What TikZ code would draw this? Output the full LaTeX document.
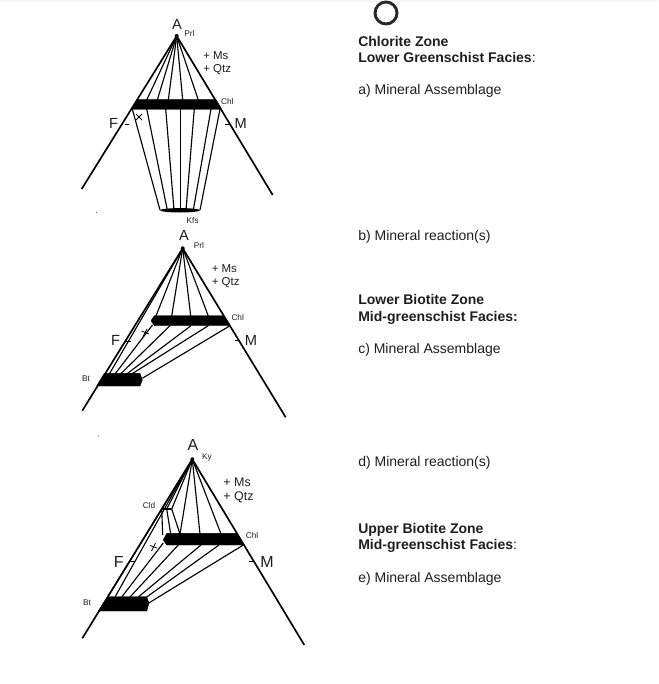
\documentclass[tikz,border=0pt]{standalone}
\usepackage{fontspec}
\setmainfont{Liberation Sans}
\definecolor{txtblack}{RGB}{30,30,30}
\definecolor{ringgrey}{RGB}{40,40,40}
\definecolor{stripgrey}{RGB}{246,246,246}
\tikzset{
  edgeline/.style={black, line width=1.25pt},
  tieline/.style={black, line width=0.85pt},
  tickline/.style={black, line width=0.6pt},
  band/.style={fill=black, draw=black, line width=0.3pt, line join=round},
  cornerlabel/.style={font=\fontsize{11}{12}\selectfont, text=txtblack, inner sep=0pt},
  cornerbig/.style={font=\fontsize{12}{13}\selectfont, text=txtblack, inner sep=0pt},
  addlabel/.style={font=\fontsize{8.6}{9}\selectfont, text=txtblack, inner sep=0pt, anchor=west},
  addbig/.style={font=\fontsize{9.4}{10}\selectfont, text=txtblack, inner sep=0pt, anchor=west},
  minlabel/.style={font=\fontsize{6.2}{7}\selectfont, text=txtblack, inner sep=0pt},
  zonetext/.style={font=\fontsize{10.5}{12}\selectfont, text=txtblack, inner sep=0pt, anchor=base west},
  zonehead/.style={zonetext, font=\fontsize{10.5}{12}\selectfont\bfseries},
}
\begin{document}
\begin{tikzpicture}[x=0.75pt,y=-0.75pt]
\useasboundingbox (0,0) rectangle (658,684);
\fill[stripgrey] (0,0) rectangle (658,2);

% Chlorite zone triangle
\coordinate (apexa) at (176.7,36);
\coordinate (lefta) at (81.7,189);
\coordinate (righta) at (272.7,195);
\fill[black] (apexa) circle (2);
\fill[band] (137.7,99.3) -- (215.7,99.3) -- (221.7,109.3) -- (131,109.3) -- cycle;
\fill[black] (180,210.3) ellipse (20 and 2.2);
\draw[edgeline] (lefta) -- (apexa) -- (righta);
\foreach \x in {146.7,157.3,168.3,182.7,198.3}
  \draw[tieline] (apexa) -- (\x,100);
\draw[tieline] (132.3,109) -- (160,210);
\draw[tieline] (146.7,109) -- (167.3,210);
\draw[tieline] (165.7,109) -- (174,210);
\draw[tieline] (180.5,109) -- (180.5,210);
\draw[tieline] (194.3,109) -- (186,210);
\draw[tieline] (211,109) -- (193.3,210);
\draw[tieline] (220,109) -- (200,210);
\node[cornerlabel] (topa) at (177,24) {A};
\node[minlabel] (prla) at (189.3,33.5) {Prl};
\node[addlabel] (msa) at (203,55.7) {+ Ms};
\node[addlabel] (qtza) at (203,69.3) {+ Qtz};
\node[minlabel] (chla) at (227.3,102) {Chl};
\node[cornerlabel] (fa) at (113.5,123) {F};
\node[cornerlabel] (ma) at (240.7,123) {M};
\node[minlabel] (kfsa) at (192.7,220.7) {Kfs};
\draw[tickline] (124.5,124.3) -- (128.5,124.3);
\draw[tickline] (225,124.3) -- (229.5,124.3);
\draw[tickline] (136,114) -- (142,120);
\draw[tickline] (136,120) -- (142,114);
\fill[black!70] (96.7,212.3) circle (0.6);

% Lower biotite zone triangle
\coordinate (apexb) at (182.7,248.3);
\coordinate (leftb) at (82.3,410.7);
\coordinate (rightb) at (285.7,417.3);
\fill[black] (apexb) circle (2);
\fill[band] (151,320.7) -- (154.3,315.7) -- (223.3,315.7) -- (230,325.7) -- (154.3,325.7) -- cycle;
\fill[band] (96.7,386) -- (104.3,373.3) -- (140,373.3) -- (142.3,380) -- (140,386) -- cycle;
\draw[edgeline] (leftb) -- (apexb) -- (rightb);
\draw[tieline] (apexb) -- (109.3,374);
\foreach \x in {156,171.7,190.7,208.3}
  \draw[tieline] (apexb) -- (\x,316);
\draw[tieline] (152.5,325) -- (115,374);
\draw[tieline] (170,325.7) -- (120.5,374);
\draw[tieline] (191,325.7) -- (126.7,374);
\draw[tieline] (208.3,325.7) -- (131.7,374);
\draw[tieline] (230,325.7) -- (142.3,378.3);
\node[cornerlabel] (topb) at (184,235) {A};
\node[minlabel] (prlb) at (199,245.7) {Prl};
\node[addlabel] (msb) at (211.5,268.3) {+ Ms};
\node[addlabel] (qtzb) at (211.5,282.7) {+ Qtz};
\node[minlabel] (chlb) at (237.7,317.3) {Chl};
\node[cornerlabel] (fb) at (115.7,340.7) {F};
\node[cornerlabel] (mb) at (251,340.7) {M};
\node[minlabel] (btb) at (86,378.3) {Bt};
\draw[tickline] (125,341) -- (130.7,341);
\draw[tickline] (235,340.7) -- (240,340.7);
\draw[tickline] (141.5,331) -- (149,334);
\draw[tickline] (143,336.5) -- (147,329);

% Upper biotite zone triangle
\coordinate (apexc) at (192.3,459.3);
\coordinate (leftc) at (82.3,638.3);
\coordinate (rightc) at (304.3,645);
\fill[black] (apexc) circle (2);
\fill[band] (163.3,540) -- (166.7,533.3) -- (236.7,533.3) -- (243.3,545) -- (166.7,545) -- cycle;
\fill[band] (98.3,611) -- (107.7,596.7) -- (146.7,596.7) -- (149,603.3) -- (146.7,611) -- cycle;
\draw[edgeline] (leftc) -- (apexc) -- (rightc);
\draw[tieline] (161.7,509) -- (171.7,509);
\draw[tieline] (apexc) -- (166.7,509);
\draw[tieline] (apexc) -- (171.7,509);
\draw[tieline] (161.7,509) -- (162.7,535);
\draw[tieline] (166.7,509) -- (170.7,534);
\draw[tieline] (171.7,509) -- (180,534);
\foreach \x in {180,200,221}
  \draw[tieline] (apexc) -- (\x,534);
\draw[tieline] (apexc) -- (107.7,597);
\draw[tieline] (apexc) -- (115,597);
\draw[tieline] (163.3,543) -- (121.7,597);
\draw[tieline] (178.3,545) -- (130,597);
\draw[tieline] (201,545) -- (138.3,597);
\draw[tieline] (219,545) -- (146.7,597);
\draw[tieline] (243.3,545) -- (148.3,603.3);
\node[cornerbig] (topc) at (193,445) {A};
\node[minlabel] (kyc) at (207,457.5) {Ky};
\node[addbig] (msc) at (223,482.3) {+ Ms};
\node[addbig] (qtzc) at (223,497) {+ Qtz};
\node[minlabel] (cldc) at (149,505.7) {Cld};
\node[minlabel] (chlc) at (252,535.7) {Chl};
\node[cornerbig] (fc) at (118.7,561.7) {F};
\node[cornerbig] (mc) at (267,561.7) {M};
\node[minlabel] (btc) at (87,603) {Bt};
\draw[tickline] (129.3,561.7) -- (135,561.7);
\draw[tickline] (249,561.7) -- (254,561.7);
\draw[tickline] (150,545.5) -- (157,548);
\draw[tickline] (151.5,551) -- (155.5,543);
\fill[black!70] (98.3,436) circle (0.6);

% Ring above the text
\node[draw=ringgrey, line width=2.2pt, circle, minimum size=16.5pt, inner sep=0pt] (ring) at (386,13) {};

% Question text
\node[zonehead] (q1) at (358,47) {Chlorite Zone};
\node[zonehead] (q2) at (358,63) {Lower Greenschist Facies\textmd{:}};
\node[zonetext] (q3) at (358,95) {a) Mineral Assemblage};
\node[zonetext] (q4) at (358,240) {b) Mineral reaction(s)};
\node[zonehead] (q5) at (358,304) {Lower Biotite Zone};
\node[zonehead] (q6) at (358,321) {Mid-greenschist Facies:};
\node[zonetext] (q7) at (358,353) {c) Mineral Assemblage};
\node[zonetext] (q8) at (358,466) {d) Mineral reaction(s)};
\node[zonehead] (q9) at (358,533) {Upper Biotite Zone};
\node[zonehead] (q10) at (358,549) {Mid-greenschist Facies\textmd{:}};
\node[zonetext] (q11) at (358,582) {e) Mineral Assemblage};

\end{tikzpicture}
\end{document}
